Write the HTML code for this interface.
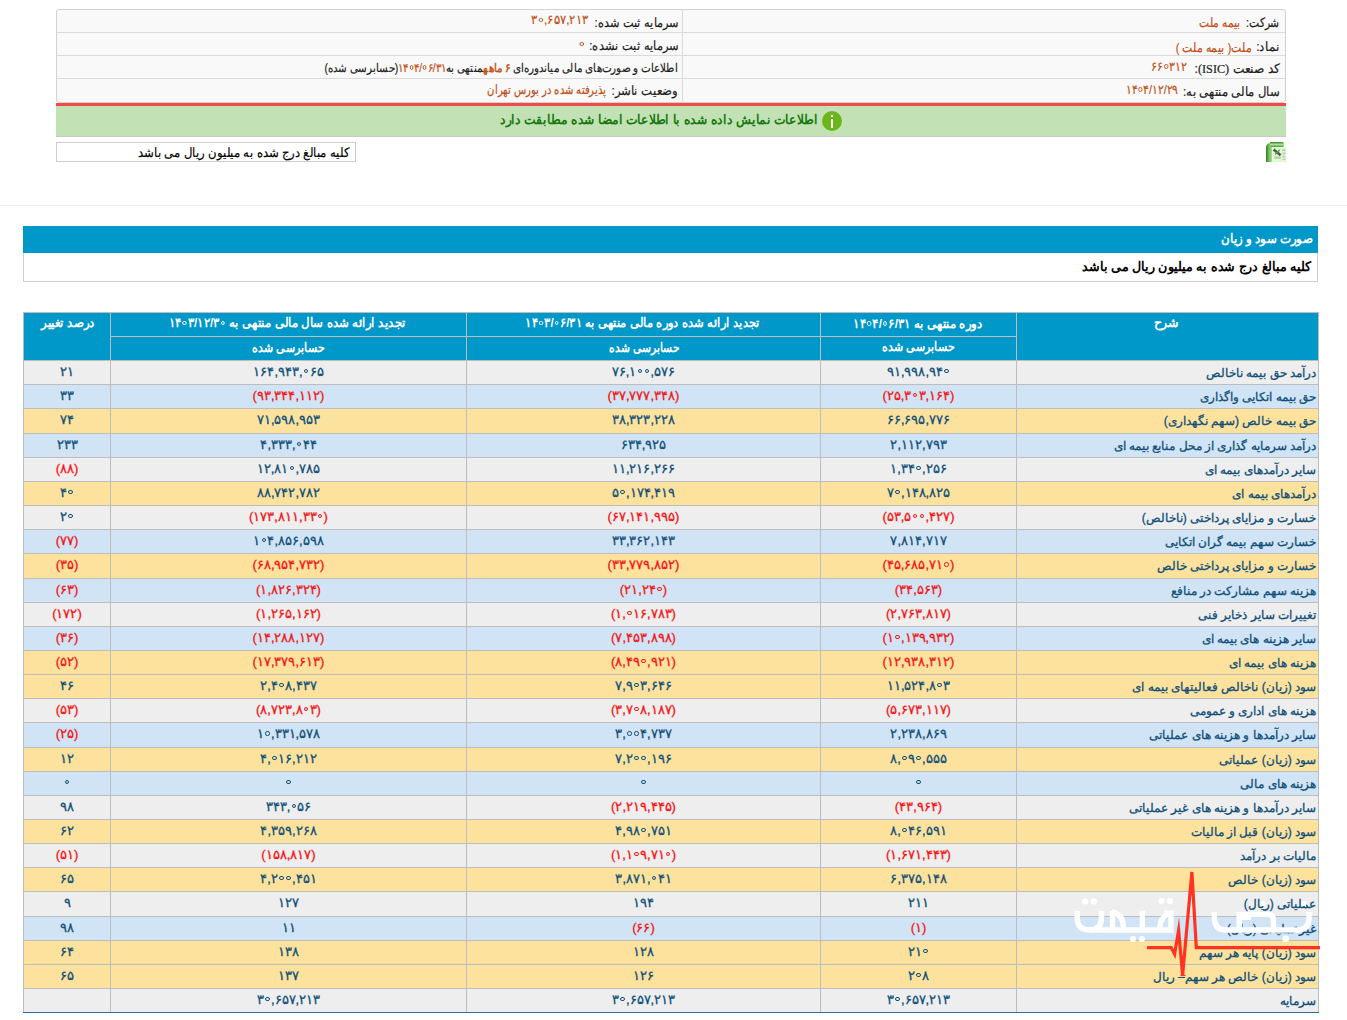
<!DOCTYPE html>
<html><head><meta charset="utf-8">
<style>
html,body{margin:0;padding:0;background:#fff;}
body{width:1347px;height:1020px;overflow:hidden;position:relative;font-family:"Liberation Sans",sans-serif;font-size:13px;color:#000;}
.abs{position:absolute;}
.lo{unicode-bidi:isolate-override;direction:ltr;}
.z{display:inline-block;position:relative;width:0.54em;height:0;}
.z:after{content:"";position:absolute;left:50%;top:-0.52em;width:0.34em;height:0.34em;margin-left:-0.17em;border:0.125em solid currentColor;border-radius:50%;box-sizing:border-box;}
.tx{position:absolute;white-space:nowrap;direction:rtl;line-height:16px;transform-origin:100% 50%;}
.info{position:absolute;left:56px;top:9px;width:1228px;height:92px;border:1px solid #d2d2d2;border-radius:3px;background:#f9f9f9;}
.hl{position:absolute;left:0;width:1228px;height:1px;background:#dadada;}
.vl{position:absolute;left:625px;top:0;width:1px;height:92px;background:#dadada;}
.it{position:absolute;white-space:nowrap;direction:rtl;font-size:13px;line-height:16px;color:#1e1e1e;}
.it .or{color:#c4521a;}
.sup{position:relative;}
.alert{position:absolute;left:56px;top:103px;width:1230px;height:30px;border-top:3px solid #f54848;background:#c2e2b6;border-bottom:1px solid #c9c9c9;}
.alert .t{position:absolute;right:468px;top:8px;white-space:nowrap;direction:rtl;font-weight:bold;color:#1a7410;font-size:12.3px;line-height:16px;}
.icon{position:absolute;left:766px;top:5px;width:20px;height:20px;border-radius:50%;background:#6cb61b;}
.icon:after{content:"";position:absolute;left:9px;top:7.5px;width:2px;height:9px;background:#fff;}
.icon:before{content:"";position:absolute;left:9px;top:4px;width:2px;height:2.2px;background:#fff;}
.note{position:absolute;left:56px;top:142px;width:298px;height:18px;border:1px solid #cdcdcd;background:#fff;}
.note .t{position:absolute;right:4px;top:1px;white-space:nowrap;direction:rtl;font-size:12px;line-height:16px;color:#000;}
.hr{position:absolute;left:0;top:205px;width:1347px;height:1px;background:#ececec;}
.sech{position:absolute;left:23px;top:226px;width:1295px;height:27px;background:#0097c9;}
.sech .t{position:absolute;right:5px;top:6px;white-space:nowrap;direction:rtl;font-weight:bold;color:#fff;font-size:12.3px;line-height:16px;}
.secb{position:absolute;left:23px;top:253px;width:1293px;height:28px;border:1px solid #cdcdcd;border-top:none;background:#fff;}
.secb .t{position:absolute;right:5px;top:6px;white-space:nowrap;direction:rtl;font-weight:bold;color:#000;font-size:12.8px;line-height:16px;}
table{position:absolute;left:23px;top:312px;border-collapse:collapse;table-layout:fixed;direction:rtl;width:1295px;}
td,th{border:1px solid #bdbdbd;padding:0;white-space:nowrap;overflow:hidden;}
th{background:#0097c9;color:#fff;font-weight:bold;font-size:12px;height:23px;line-height:16px;vertical-align:middle;}
th.rs{vertical-align:top;padding-top:4px;}
td{line-height:16px;font-size:13px;color:#0f4f78;vertical-align:middle;-webkit-text-stroke:0.3px currentColor;}
td.lab{text-align:right;padding-right:2px;font-size:12px;}
td.v{text-align:center;}
td.v>span{position:relative;top:-1px;}
.n{color:#f41414;}
tr.g td{background:#eeeeee;}
tr.b td{background:#d1e4f5;}
tr.o td{background:#fde29e;}
table tr:last-child td{border-bottom:1px solid #2a6aa3;}
</style></head><body>
<div class="info">
  <div class="hl" style="top:22px"></div>
  <div class="hl" style="top:45px"></div>
  <div class="hl" style="top:68px"></div>
  <div class="vl"></div>
</div>
<div class="alert"><div class="icon"></div></div>
<div class="note"></div>
<svg class="abs" style="left:1266px;top:142px" width="20" height="20" viewBox="0 0 20 20">
<defs>
<linearGradient id="lgv" x1="0" x2="1" y1="0" y2="0"><stop offset="0" stop-color="#2a7d1a"/><stop offset=".45" stop-color="#6fb85a"/><stop offset="1" stop-color="#a9dc98"/></linearGradient>
<linearGradient id="lgh" x1="0" x2="0" y1="0" y2="1"><stop offset="0" stop-color="#2c8a1c"/><stop offset=".5" stop-color="#a8e494"/><stop offset="1" stop-color="#4f9a3c"/></linearGradient>
</defs>
<rect x="0" y="0" width="20" height="20" fill="#f6fff2"/>
<rect x="6" y="5" width="14" height="15" fill="#e2f9d6"/>
<path d="M0 20 V6 Q0 1 5 1 H6 V20 Z" fill="url(#lgv)"/>
<path d="M4 0 H16.5 Q18 0 18 2.5 Q18 5 16.5 5 H6 Q4 5 4 3 Z" fill="url(#lgh)"/>
<path d="M7.6 7.6 L14.6 13.2" stroke="#3f6535" stroke-width="2.6"/>
<path d="M13.8 7.8 L9 12.6" stroke="#6f8f62" stroke-width="1.4"/>
<g fill="#b9cdb0"><rect x="16.3" y="7.3" width="3.2" height="1.8"/><rect x="16.3" y="10.6" width="3.2" height="1.8"/><rect x="16.3" y="13.8" width="3.2" height="1.8"/><rect x="8.2" y="14.4" width="6.6" height="2.4"/><rect x="16.3" y="16.8" width="3.2" height="1.2"/></g>
</svg>
<div class="hr"></div>
<div class="sech"></div>
<div class="secb"></div>
<table>
<colgroup><col style="width:302px"><col style="width:196px"><col style="width:354px"><col style="width:356px"><col style="width:87px"></colgroup>
<tr><th class="rs" rowspan="2"></th><th></th><th></th><th></th><th class="rs" rowspan="2"></th></tr>
<tr><th></th><th></th><th></th></tr>
<tr class="g" style="height:24px"><td class="lab">درآمد حق بیمه ناخالص</td><td class="v"><span><span class="lo">۹۱,۹۹۸,۹۴<i class="z"></i></span></span></td><td class="v"><span><span class="lo">۷۶,۱<i class="z"></i><i class="z"></i>,۵۷۶</span></span></td><td class="v"><span><span class="lo">۱۶۴,۹۴۳,<i class="z"></i>۶۵</span></span></td><td class="v"><span><span class="lo">۲۱</span></span></td></tr>
<tr class="b" style="height:24px"><td class="lab">حق بیمه اتکایی واگذاری</td><td class="v"><span class="n"><span class="lo">(۲۵,۳<i class="z"></i>۳,۱۶۴)</span></span></td><td class="v"><span class="n"><span class="lo">(۳۷,۷۷۷,۳۴۸)</span></span></td><td class="v"><span class="n"><span class="lo">(۹۳,۳۴۴,۱۱۲)</span></span></td><td class="v"><span><span class="lo">۳۳</span></span></td></tr>
<tr class="o" style="height:25px"><td class="lab">حق بیمه خالص (سهم نگهداری)</td><td class="v"><span><span class="lo">۶۶,۶۹۵,۷۷۶</span></span></td><td class="v"><span><span class="lo">۳۸,۳۲۳,۲۲۸</span></span></td><td class="v"><span><span class="lo">۷۱,۵۹۸,۹۵۳</span></span></td><td class="v"><span><span class="lo">۷۴</span></span></td></tr>
<tr class="b" style="height:24px"><td class="lab">درآمد سرمایه گذاری از محل منابع بیمه ای</td><td class="v"><span><span class="lo">۲,۱۱۲,۷۹۳</span></span></td><td class="v"><span><span class="lo">۶۳۴,۹۲۵</span></span></td><td class="v"><span><span class="lo">۴,۳۳۳,<i class="z"></i>۴۴</span></span></td><td class="v"><span><span class="lo">۲۳۳</span></span></td></tr>
<tr class="g" style="height:24px"><td class="lab">سایر درآمدهای بیمه ای</td><td class="v"><span><span class="lo">۱,۳۴<i class="z"></i>,۲۵۶</span></span></td><td class="v"><span><span class="lo">۱۱,۲۱۶,۲۶۶</span></span></td><td class="v"><span><span class="lo">۱۲,۸۱<i class="z"></i>,۷۸۵</span></span></td><td class="v"><span class="n"><span class="lo">(۸۸)</span></span></td></tr>
<tr class="o" style="height:24px"><td class="lab">درآمدهای بیمه ای</td><td class="v"><span><span class="lo">۷<i class="z"></i>,۱۴۸,۸۲۵</span></span></td><td class="v"><span><span class="lo">۵<i class="z"></i>,۱۷۴,۴۱۹</span></span></td><td class="v"><span><span class="lo">۸۸,۷۴۲,۷۸۲</span></span></td><td class="v"><span><span class="lo">۴<i class="z"></i></span></span></td></tr>
<tr class="g" style="height:24px"><td class="lab">خسارت و مزایای پرداختی (ناخالص)</td><td class="v"><span class="n"><span class="lo">(۵۳,۵<i class="z"></i><i class="z"></i>,۴۲۷)</span></span></td><td class="v"><span class="n"><span class="lo">(۶۷,۱۴۱,۹۹۵)</span></span></td><td class="v"><span class="n"><span class="lo">(۱۷۳,۸۱۱,۳۳<i class="z"></i>)</span></span></td><td class="v"><span><span class="lo">۲<i class="z"></i></span></span></td></tr>
<tr class="b" style="height:24px"><td class="lab">خسارت سهم بیمه گران اتکایی</td><td class="v"><span><span class="lo">۷,۸۱۴,۷۱۷</span></span></td><td class="v"><span><span class="lo">۳۳,۳۶۲,۱۴۳</span></span></td><td class="v"><span><span class="lo">۱<i class="z"></i>۴,۸۵۶,۵۹۸</span></span></td><td class="v"><span class="n"><span class="lo">(۷۷)</span></span></td></tr>
<tr class="o" style="height:25px"><td class="lab">خسارت و مزایای پرداختی خالص</td><td class="v"><span class="n"><span class="lo">(۴۵,۶۸۵,۷۱<i class="z"></i>)</span></span></td><td class="v"><span class="n"><span class="lo">(۳۳,۷۷۹,۸۵۲)</span></span></td><td class="v"><span class="n"><span class="lo">(۶۸,۹۵۴,۷۳۲)</span></span></td><td class="v"><span class="n"><span class="lo">(۳۵)</span></span></td></tr>
<tr class="b" style="height:24px"><td class="lab">هزینه سهم مشارکت در منافع</td><td class="v"><span class="n"><span class="lo">(۳۴,۵۶۳)</span></span></td><td class="v"><span class="n"><span class="lo">(۲۱,۲۴<i class="z"></i>)</span></span></td><td class="v"><span class="n"><span class="lo">(۱,۸۲۶,۳۲۴)</span></span></td><td class="v"><span class="n"><span class="lo">(۶۳)</span></span></td></tr>
<tr class="g" style="height:24px"><td class="lab">تغییرات سایر ذخایر فنی</td><td class="v"><span class="n"><span class="lo">(۲,۷۶۳,۸۱۷)</span></span></td><td class="v"><span class="n"><span class="lo">(۱,<i class="z"></i>۱۶,۷۸۳)</span></span></td><td class="v"><span class="n"><span class="lo">(۱,۲۶۵,۱۶۲)</span></span></td><td class="v"><span class="n"><span class="lo">(۱۷۲)</span></span></td></tr>
<tr class="b" style="height:24px"><td class="lab">سایر هزینه های بیمه ای</td><td class="v"><span class="n"><span class="lo">(۱<i class="z"></i>,۱۳۹,۹۳۲)</span></span></td><td class="v"><span class="n"><span class="lo">(۷,۴۵۳,۸۹۸)</span></span></td><td class="v"><span class="n"><span class="lo">(۱۴,۲۸۸,۱۲۷)</span></span></td><td class="v"><span class="n"><span class="lo">(۳۶)</span></span></td></tr>
<tr class="o" style="height:24px"><td class="lab">هزینه های بیمه ای</td><td class="v"><span class="n"><span class="lo">(۱۲,۹۳۸,۳۱۲)</span></span></td><td class="v"><span class="n"><span class="lo">(۸,۴۹<i class="z"></i>,۹۲۱)</span></span></td><td class="v"><span class="n"><span class="lo">(۱۷,۳۷۹,۶۱۳)</span></span></td><td class="v"><span class="n"><span class="lo">(۵۲)</span></span></td></tr>
<tr class="o" style="height:24px"><td class="lab">سود (زیان) ناخالص فعالیتهای بیمه ای</td><td class="v"><span><span class="lo">۱۱,۵۲۴,۸<i class="z"></i>۳</span></span></td><td class="v"><span><span class="lo">۷,۹<i class="z"></i>۳,۶۴۶</span></span></td><td class="v"><span><span class="lo">۲,۴<i class="z"></i>۸,۴۳۷</span></span></td><td class="v"><span><span class="lo">۴۶</span></span></td></tr>
<tr class="g" style="height:24px"><td class="lab">هزینه های اداری و عمومی</td><td class="v"><span class="n"><span class="lo">(۵,۶۷۳,۱۱۷)</span></span></td><td class="v"><span class="n"><span class="lo">(۳,۷<i class="z"></i>۸,۱۸۷)</span></span></td><td class="v"><span class="n"><span class="lo">(۸,۷۲۳,۸<i class="z"></i>۳)</span></span></td><td class="v"><span class="n"><span class="lo">(۵۳)</span></span></td></tr>
<tr class="b" style="height:25px"><td class="lab">سایر درآمدها و هزینه های عملیاتی</td><td class="v"><span><span class="lo">۲,۲۳۸,۸۶۹</span></span></td><td class="v"><span><span class="lo">۳,<i class="z"></i><i class="z"></i>۴,۷۳۷</span></span></td><td class="v"><span><span class="lo">۱<i class="z"></i>,۳۳۱,۵۷۸</span></span></td><td class="v"><span class="n"><span class="lo">(۲۵)</span></span></td></tr>
<tr class="o" style="height:24px"><td class="lab">سود (زیان) عملیاتی</td><td class="v"><span><span class="lo">۸,<i class="z"></i>۹<i class="z"></i>,۵۵۵</span></span></td><td class="v"><span><span class="lo">۷,۲<i class="z"></i><i class="z"></i>,۱۹۶</span></span></td><td class="v"><span><span class="lo">۴,<i class="z"></i>۱۶,۲۱۲</span></span></td><td class="v"><span><span class="lo">۱۲</span></span></td></tr>
<tr class="b" style="height:24px"><td class="lab">هزینه های مالی</td><td class="v"><span><span class="lo"><i class="z"></i></span></span></td><td class="v"><span><span class="lo"><i class="z"></i></span></span></td><td class="v"><span><span class="lo"><i class="z"></i></span></span></td><td class="v"><span><span class="lo"><i class="z"></i></span></span></td></tr>
<tr class="g" style="height:24px"><td class="lab">سایر درآمدها و هزینه های غیر عملیاتی</td><td class="v"><span class="n"><span class="lo">(۴۳,۹۶۴)</span></span></td><td class="v"><span class="n"><span class="lo">(۲,۲۱۹,۴۴۵)</span></span></td><td class="v"><span><span class="lo">۳۴۳,<i class="z"></i>۵۶</span></span></td><td class="v"><span><span class="lo">۹۸</span></span></td></tr>
<tr class="o" style="height:24px"><td class="lab">سود (زیان) قبل از مالیات</td><td class="v"><span><span class="lo">۸,<i class="z"></i>۴۶,۵۹۱</span></span></td><td class="v"><span><span class="lo">۴,۹۸<i class="z"></i>,۷۵۱</span></span></td><td class="v"><span><span class="lo">۴,۳۵۹,۲۶۸</span></span></td><td class="v"><span><span class="lo">۶۲</span></span></td></tr>
<tr class="g" style="height:24px"><td class="lab">مالیات بر درآمد</td><td class="v"><span class="n"><span class="lo">(۱,۶۷۱,۴۴۳)</span></span></td><td class="v"><span class="n"><span class="lo">(۱,۱<i class="z"></i>۹,۷۱<i class="z"></i>)</span></span></td><td class="v"><span class="n"><span class="lo">(۱۵۸,۸۱۷)</span></span></td><td class="v"><span class="n"><span class="lo">(۵۱)</span></span></td></tr>
<tr class="o" style="height:24px"><td class="lab">سود (زیان) خالص</td><td class="v"><span><span class="lo">۶,۳۷۵,۱۴۸</span></span></td><td class="v"><span><span class="lo">۳,۸۷۱,<i class="z"></i>۴۱</span></span></td><td class="v"><span><span class="lo">۴,۲<i class="z"></i><i class="z"></i>,۴۵۱</span></span></td><td class="v"><span><span class="lo">۶۵</span></span></td></tr>
<tr class="g" style="height:25px"><td class="lab">عملیاتی (ریال)</td><td class="v"><span><span class="lo">۲۱۱</span></span></td><td class="v"><span><span class="lo">۱۹۴</span></span></td><td class="v"><span><span class="lo">۱۲۷</span></span></td><td class="v"><span><span class="lo">۹</span></span></td></tr>
<tr class="b" style="height:24px"><td class="lab">غیرعملیاتی (ریال)</td><td class="v"><span class="n"><span class="lo">(۱)</span></span></td><td class="v"><span class="n"><span class="lo">(۶۶)</span></span></td><td class="v"><span><span class="lo">۱۱</span></span></td><td class="v"><span><span class="lo">۹۸</span></span></td></tr>
<tr class="o" style="height:24px"><td class="lab">سود (زیان) پایه هر سهم</td><td class="v"><span><span class="lo">۲۱<i class="z"></i></span></span></td><td class="v"><span><span class="lo">۱۲۸</span></span></td><td class="v"><span><span class="lo">۱۳۸</span></span></td><td class="v"><span><span class="lo">۶۴</span></span></td></tr>
<tr class="o" style="height:24px"><td class="lab">سود (زیان) خالص هر سهم– ریال</td><td class="v"><span><span class="lo">۲<i class="z"></i>۸</span></span></td><td class="v"><span><span class="lo">۱۲۶</span></span></td><td class="v"><span><span class="lo">۱۳۷</span></span></td><td class="v"><span><span class="lo">۶۵</span></span></td></tr>
<tr class="g" style="height:24px"><td class="lab">سرمایه</td><td class="v"><span><span class="lo">۳<i class="z"></i>,۶۵۷,۲۱۳</span></span></td><td class="v"><span><span class="lo">۳<i class="z"></i>,۶۵۷,۲۱۳</span></span></td><td class="v"><span><span class="lo">۳<i class="z"></i>,۶۵۷,۲۱۳</span></span></td><td class="v"><span><span class="lo"></span></span></td></tr>
</table>
<svg class="abs" style="left:1060px;top:860px" width="270" height="130" viewBox="1060 860 270 130">
<g fill="none" stroke="#fff" stroke-width="5.4" stroke-linecap="butt" stroke-linejoin="miter">
<path d="M1077.2 910.8 V918 Q1077.2 930 1089.5 930 Q1101.4 930 1101.4 918 V910.8"/>
<path d="M1089 930 H1173.5"/>
<path d="M1112.5 911 V930 M1112 912 Q1123.5 914 1123.5 928"/>
<path d="M1142.4 910.8 V930"/>
<path d="M1171 910.8 V932.5 M1164 913.2 H1173 M1169 913 Q1160 917 1159.5 930"/>
<path d="M1214.4 912 V918 Q1214.4 930 1226 930 H1297 Q1309 930 1309 918 V912"/>
<path d="M1239.2 912 V930 M1237 914.4 H1268 Q1273.4 914.4 1273.4 920 V930"/>
</g>
<rect x="1239" y="914" width="12" height="6" fill="#fff"/>
<g fill="#fff">
<circle cx="1085.1" cy="901.4" r="3.1"/><circle cx="1093.7" cy="901.4" r="3.1"/>
<circle cx="1161.5" cy="901" r="3.1"/><circle cx="1170" cy="901" r="3.1"/>
<circle cx="1132.9" cy="939" r="3.1"/><circle cx="1141.9" cy="939" r="3.1"/>
<circle cx="1304" cy="903.4" r="2.6"/><circle cx="1263" cy="903.4" r="2.6"/><circle cx="1285.7" cy="938.9" r="3.3"/>
</g>
<path d="M1147 947.6 H1171.2 L1174.6 954.2 L1178.6 930.1 L1182.6 975.2 L1191.9 872 L1196.3 947.6 H1320" fill="none" stroke="#ff3322" stroke-width="3.2" stroke-linejoin="miter" stroke-miterlimit="10"/>
<path d="M1180.5 975.5 H1185.5" stroke="#ff3322" stroke-width="1.2"/>
</svg>
<div class="m tx" id="r1l" style="right:67.56px;top:14.65px;transform:scaleX(0.8287);color:#1e1e1e;font-size:13px;-webkit-text-stroke:0.2px currentColor">شرکت:</div>
<div class="m tx" id="r1v" style="right:106.14px;top:15.30px;transform:scaleX(0.8180);color:#c24f17;font-size:13px;-webkit-text-stroke:0.2px currentColor">بیمه ملت</div>
<div class="m tx" id="r2l" style="right:67.08px;top:39.05px;transform:scaleX(0.9167);color:#1e1e1e;font-size:13px;-webkit-text-stroke:0.2px currentColor">نماد:</div>
<div class="m tx" id="r2v" style="right:95.73px;top:40.25px;transform:scaleX(0.8362);color:#c24f17;font-size:13px;-webkit-text-stroke:0.2px currentColor">ملت( بیمه ملت )</div>
<div class="m tx" id="r3l" style="right:67.01px;top:61.15px;transform:scaleX(0.9392);color:#1e1e1e;font-size:13px;-webkit-text-stroke:0.2px currentColor">کد صنعت <span style="font-family:'Liberation Serif'">(ISIC)</span>:</div>
<div class="m tx" id="r3v" style="right:159.93px;top:59.00px;transform:scaleX(0.8475);color:#c24f17;font-size:13px;-webkit-text-stroke:0.2px currentColor"><span class="lo">۶۶<i class="z"></i>۳۱۲</span></div>
<div class="m tx" id="r4l" style="right:67.15px;top:84.25px;transform:scaleX(0.8965);color:#1e1e1e;font-size:13px;-webkit-text-stroke:0.2px currentColor">سال مالی منتهی به:</div>
<div class="m tx" id="r4v" style="right:169.15px;top:81.95px;transform:scaleX(0.8285);color:#c24f17;font-size:13px;-webkit-text-stroke:0.2px currentColor"><span class="lo">۱۴<i class="z"></i>۴/۱۲/۲۹</span></div>
<div class="m tx" id="l1l" style="right:668.13px;top:15.05px;transform:scaleX(0.8718);color:#1e1e1e;font-size:13px;-webkit-text-stroke:0.2px currentColor">سرمایه ثبت شده:</div>
<div class="m tx" id="l1v" style="right:759.12px;top:12.40px;transform:scaleX(0.8976);color:#c24f17;font-size:13px;-webkit-text-stroke:0.2px currentColor"><span class="lo">۳<i class="z"></i>,۶۵۷,۲۱۳</span></div>
<div class="m tx" id="l2l" style="right:668.12px;top:37.60px;transform:scaleX(0.8800);color:#1e1e1e;font-size:13px;-webkit-text-stroke:0.2px currentColor">سرمایه ثبت نشده:</div>
<div class="m tx" id="l2v" style="right:762.45px;top:36.25px;transform:scaleX(0.9256);color:#c24f17;font-size:13px;-webkit-text-stroke:0.2px currentColor"><span class="lo"><i class="z"></i></span></div>
<div class="m tx" id="l3" style="right:669.36px;top:59.70px;transform:scaleX(0.8618);color:#1e1e1e;font-size:12px;-webkit-text-stroke:0.2px currentColor">اطلاعات و صورت‌های مالی میاندوره‌ای <span style="color:#c24f17;-webkit-text-stroke:0.45px currentColor">۶ ماهه</span>منتهی به<span style="color:#c24f17"><span class="lo">۱۴<i class="z"></i>۴/<i class="z"></i>۶/۳۱</span></span>(حسابرسی شده)</div>
<div class="m tx" id="l4l" style="right:669.37px;top:83.15px;transform:scaleX(0.8990);color:#1e1e1e;font-size:13px;-webkit-text-stroke:0.2px currentColor">وضعیت ناشر:</div>
<div class="m tx" id="l4v" style="right:740.12px;top:82.45px;transform:scaleX(0.7738);color:#c24f17;font-size:13px;-webkit-text-stroke:0.2px currentColor">پذیرفته شده در بورس تهران</div>
<div class="m tx" id="alt" style="right:529.06px;top:112.05px;transform:scaleX(0.9438);color:#187a0e;font-size:13px;font-weight:bold">اطلاعات نمایش داده شده با اطلاعات امضا شده مطابقت دارد</div>
<div class="m tx" id="note" style="right:998.48px;top:145.00px;transform:scaleX(0.8983);color:#000;font-size:13px;-webkit-text-stroke:0.15px currentColor">کلیه مبالغ درج شده به میلیون ریال می باشد</div>
<div class="m tx" id="sech" style="right:33.80px;top:230.95px;transform:scaleX(0.9113);color:#fff;font-size:13px;font-weight:bold">صورت سود و زیان</div>
<div class="m tx" id="secb" style="right:35.99px;top:259.35px;transform:scaleX(0.9741);color:#000;font-size:13px;font-weight:bold">کلیه مبالغ درج شده به میلیون ریال می باشد</div>
<div class="m tx" id="h1" style="right:167.66px;top:315.15px;transform:scaleX(0.9734);color:#fff;font-size:13px;font-weight:bold">شرح</div>
<div class="m tx" id="h2" style="right:364.82px;top:316.00px;transform:scaleX(0.9066);color:#fff;font-size:13px;font-weight:bold">دوره منتهی به <span class="lo">۱۴<i class="z"></i>۴/<i class="z"></i>۶/۳۱</span></div>
<div class="m tx" id="h3" style="right:587.20px;top:315.40px;transform:scaleX(0.8916);color:#fff;font-size:13px;font-weight:bold">تجدید ارائه شده دوره مالی منتهی به <span class="lo">۱۴<i class="z"></i>۳/<i class="z"></i>۶/۳۱</span></div>
<div class="m tx" id="h4" style="right:941.20px;top:315.40px;transform:scaleX(0.9062);color:#fff;font-size:13px;font-weight:bold">تجدید ارائه شده سال مالی منتهی به <span class="lo">۱۴<i class="z"></i>۳/۱۲/۳<i class="z"></i></span></div>
<div class="m tx" id="h5" style="right:1252.55px;top:315.30px;transform:scaleX(0.9106);color:#fff;font-size:13px;font-weight:bold">درصد تغییر</div>
<div class="m tx" id="s2" style="right:392.07px;top:338.70px;transform:scaleX(0.8472);color:#fff;font-size:13px;font-weight:bold">حسابرسی شده</div>
<div class="m tx" id="s3" style="right:667.66px;top:340.05px;transform:scaleX(0.8251);color:#fff;font-size:13px;font-weight:bold">حسابرسی شده</div>
<div class="m tx" id="s4" style="right:1022.79px;top:340.05px;transform:scaleX(0.8468);color:#fff;font-size:13px;font-weight:bold">حسابرسی شده</div>
</body></html>
